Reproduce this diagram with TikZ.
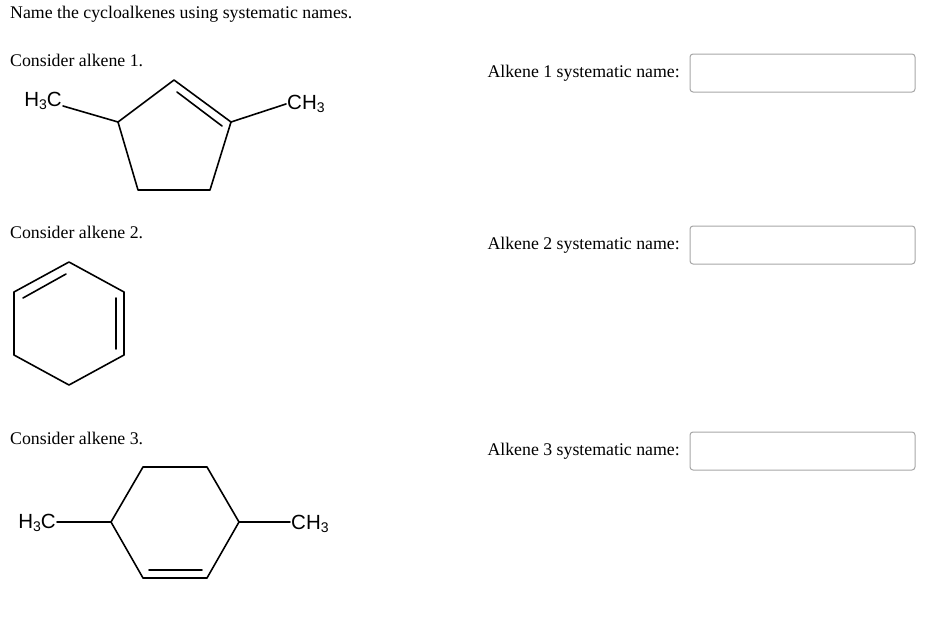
\documentclass[tikz,border=0pt]{standalone}
\usepackage{fontspec}
\setmainfont{Liberation Serif}
\newfontfamily\chem{Liberation Sans}
\newcommand{\chsub}[1]{\raisebox{-0.3ex}{\fontsize{14}{16}\selectfont #1}}
\begin{document}
\begin{tikzpicture}[x=1pt,y=-1pt,
  bond/.style={line width=1.6pt,line cap=round},
  txt/.style={font=\fontsize{17.8}{20}\selectfont,inner sep=0pt},
  lbl/.style={font=\chem\fontsize{20.5}{22}\selectfont,inner sep=1pt},
  box/.style={draw=gray!70,line width=1pt,rounded corners=3pt}]
\useasboundingbox (0,0) rectangle (937,621);
\node[txt,anchor=base west] (title) at (10,19) {Name the cycloalkenes using systematic names.};
\node[txt,anchor=base west] (c1) at (10,66) {Consider alkene 1.};
\node[txt,anchor=base west] (c2) at (10,238) {Consider alkene 2.};
\node[txt,anchor=base west] (c3) at (10,444) {Consider alkene 3.};
\foreach \i/\y in {1/73,2/245,3/451}{
  \node[txt,anchor=east] (q\i) at (680,\y) {Alkene \i\ systematic name:};
  \draw[box] (690,\y-19) rectangle (915,\y+19);
}
% alkene 1
\coordinate (a1) at (174,80); \coordinate (a2) at (231,122); \coordinate (a3) at (210,190);
\coordinate (a4) at (138,190); \coordinate (a5) at (118,122);
\draw[bond,line join=round] (a1)--(a2)--(a3)--(a4)--(a5)--cycle;
\draw[bond] (177,92)--(222,126);
\node[lbl,anchor=east] (m1) at (63,101) {H\chsub{3}C};
\node[lbl,anchor=west] (m2) at (286,104) {CH\chsub{3}};
\draw[bond] (63,106)--(a5); \draw[bond] (a2)--(286,104);
% alkene 2
\draw[bond,line join=round] (69,262)--(124,292)--(124,355)--(69,385)--(14,355)--(14,292)--cycle;
\draw[bond] (23,298)--(66,274);
\draw[bond] (116,298)--(116,349);
% alkene 3
\coordinate (b1) at (143,467); \coordinate (b2) at (207,467); \coordinate (b3) at (239,522);
\coordinate (b4) at (207,578); \coordinate (b5) at (143,578); \coordinate (b6) at (111,522);
\draw[bond,line join=round] (b1)--(b2)--(b3)--(b4)--(b5)--(b6)--cycle;
\draw[bond] (149,570)--(202,570);
\node[lbl,anchor=east] (m3) at (57,523) {H\chsub{3}C};
\node[lbl,anchor=west] (m4) at (290,524) {CH\chsub{3}};
\draw[bond] (57,522)--(b6); \draw[bond] (b3)--(290,522);
\end{tikzpicture}
\end{document}
